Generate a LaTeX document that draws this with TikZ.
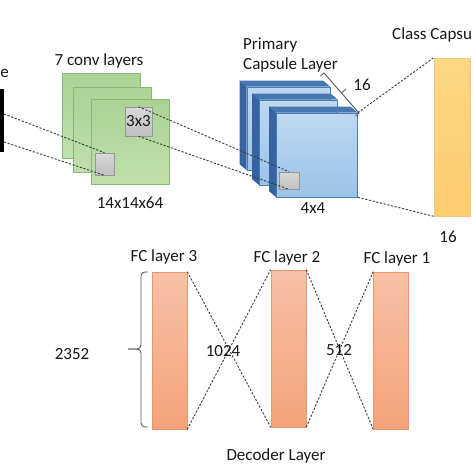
\documentclass[tikz,border=0pt]{standalone}
\usepackage{fontspec}
\setmainfont{Carlito}
\usetikzlibrary{calc}
\definecolor{txt}{RGB}{25,25,25}
\definecolor{dashc}{RGB}{60,60,60}
\definecolor{grT}{RGB}{170,211,146}
\definecolor{grB}{RGB}{192,223,174}
\definecolor{grD}{RGB}{135,185,115}
\definecolor{gyT}{RGB}{215,215,215}
\definecolor{gyB}{RGB}{192,192,192}
\definecolor{gyD}{RGB}{150,150,150}
\definecolor{blT}{RGB}{190,216,240}
\definecolor{blB}{RGB}{155,194,232}
\definecolor{blD}{RGB}{75,125,185}
\definecolor{blS}{RGB}{72,120,178}
\definecolor{blL}{RGB}{55,100,160}
\definecolor{yeT}{RGB}{254,215,132}
\definecolor{yeB}{RGB}{252,204,108}
\definecolor{yeD}{RGB}{240,200,130}
\definecolor{saT}{RGB}{247,192,165}
\definecolor{saB}{RGB}{244,163,122}
\definecolor{saD}{RGB}{236,150,110}
\definecolor{brc}{RGB}{90,90,90}
\begin{document}
\begin{tikzpicture}[x=1pt,y=-1pt,
  lbl/.style={font=\fontsize{17}{20.5}\selectfont, text=txt, inner sep=0pt},
  conn/.style={draw=dashc, line width=0.9pt, dash pattern=on 2.2pt off 1.6pt},
  greensq/.style={draw=grD, line width=0.6pt, top color=grT, bottom color=grB, minimum width=78pt, minimum height=85pt, inner sep=0pt},
  graysq/.style={draw=gyD, line width=0.6pt, top color=gyT, bottom color=gyB, inner sep=0pt},
  bluefront/.style={draw=blD, line width=0.6pt, top color=blT, bottom color=blB, inner sep=0pt},
  capbar/.style={draw=yeD, line width=0.6pt, top color=yeT, bottom color=yeB, inner sep=0pt, minimum width=36pt, minimum height=158pt},
  fcbar/.style={draw=saD, line width=0.6pt, top color=saT, bottom color=saB, inner sep=0pt, minimum width=35pt, minimum height=157pt},
  bracket/.style={draw=brc, line width=0.9pt},
]
\useasboundingbox (0,0) rectangle (474,474);
\fill[white] (0,0) rectangle (474,474);

% input
\node[fill=black, minimum width=6pt, minimum height=63pt, inner sep=0pt] (inp) at (1,120.5) {};
\coordinate (in1) at (4,114);
\coordinate (in2) at (4,142);
\node[lbl, anchor=east] (inlbl) at (9,73) {e};

% conv layers
\node[greensq] (g1) at (101,116) {};
\node[greensq] (g2) at (112.5,129.5) {};
\node[greensq] (g3) at (130,142) {};
\node[graysq, minimum width=27pt, minimum height=29pt, font=\fontsize{17}{20}\selectfont, text=txt] (k3) at (138.5,121.5) {3x3};
\node[graysq, minimum width=19pt, minimum height=22pt] (ks) at (104.5,164) {};
\node[lbl] (convlbl) at (99,61) {7 conv layers};
\node[lbl] (convdim) at (130,203) {14x14x64};

% primary capsules
\node[bluefront, minimum width=83pt, minimum height=83pt] (b1) at (288.5,128.5) {};
\fill[blS] (b1.north west) -- ++(-7,-6) -- ($(b1.north east)+(-7,-6)$) -- (b1.north east) -- cycle;
\fill[blL] (b1.north west) -- ++(-7,-6) -- ($(b1.south west)+(-7,-6)$) -- (b1.south west) -- cycle;
\node[bluefront, minimum width=78pt, minimum height=85pt] (b2) at (298.5,142.5) {};
\fill[blS] (b2.north west) -- ++(-7,-6) -- ($(b2.north east)+(-7,-6)$) -- (b2.north east) -- cycle;
\fill[blL] (b2.north west) -- ++(-7,-6) -- ($(b2.south west)+(-7,-6)$) -- (b2.south west) -- cycle;
\node[bluefront, minimum width=81pt, minimum height=84pt] (b3) at (317,155) {};
\fill[blS] (b3.north west) -- ++(-7,-6) -- ($(b3.north east)+(-7,-6)$) -- (b3.north east) -- cycle;
\fill[blL] (b3.north west) -- ++(-7,-6) -- ($(b3.south west)+(-7,-6)$) -- (b3.south west) -- cycle;
\node[graysq, minimum width=20pt, minimum height=17pt] (ps) at (289,180.5) {};
\node[lbl, align=left, anchor=west] (primlbl) at (243,55) {Primary\\Capsule Layer};
\node[lbl] (primdim) at (313,208) {4x4};

% 16 bracket
\coordinate (brA) at (324,73);
\coordinate (brB) at (359,113);
\draw[bracket] ($(brA)+(-3.5,3)$) -- (brA) -- (brB) -- ($(brB)+(-3.5,3)$);
\draw[bracket] ($(brA)!0.5!(brB)$) -- ++(4.5,-4);
\node[lbl] (sixteen1) at (362,85) {16};

% class capsule
\node[capbar] (cc) at (452,137) {};
\node[lbl, anchor=west] (cclbl) at (392,35) {Class Capsu};
\node[lbl] (sixteen2) at (448,237) {16};

% dashed connectors (top)
\draw[conn] (in1) -- (ks.north);
\draw[conn] (in2) -- (ks.south);
\draw[conn] (k3.north) -- (ps.north);
\draw[conn] (k3.south) -- (ps.south);
\draw[conn] (b3.north east) -- (cc.north west);
\draw[conn] (b3.south east) -- (cc.south west);

% decoder
\node[fcbar] (fc3) at (169.5,350.5) {};
\node[fcbar] (fc2) at (288.5,348.5) {};
\node[fcbar] (fc1) at (391,350.5) {};
\node[lbl] (fc3lbl) at (164,257) {FC layer 3};
\node[lbl] (fc2lbl) at (287,258) {FC layer 2};
\node[lbl] (fc1lbl) at (397,259) {FC layer 1};
\draw[conn] (fc3.north east) -- (fc2.south west);
\draw[conn] (fc3.south east) -- (fc2.north west);
\draw[conn] (fc2.north east) -- (fc1.south west);
\draw[conn] (fc2.south east) -- (fc1.north west);
\node[lbl] (n1024) at (223,351) {1024};
\node[lbl] (n512) at (339,350) {512};
\node[lbl] (n2352) at (72,354) {2352};
\node[lbl] (declbl) at (276,456) {Decoder Layer};

% brace
\coordinate (bt) at (148,272);
\coordinate (bb) at (148,427);
\coordinate (bm) at (128,349);
\draw[bracket, rounded corners=4pt] (bt) -| (141,349) -- (bm);
\draw[bracket, rounded corners=4pt] (bb) -| (141,349) -- (bm);
\end{tikzpicture}
\end{document}
